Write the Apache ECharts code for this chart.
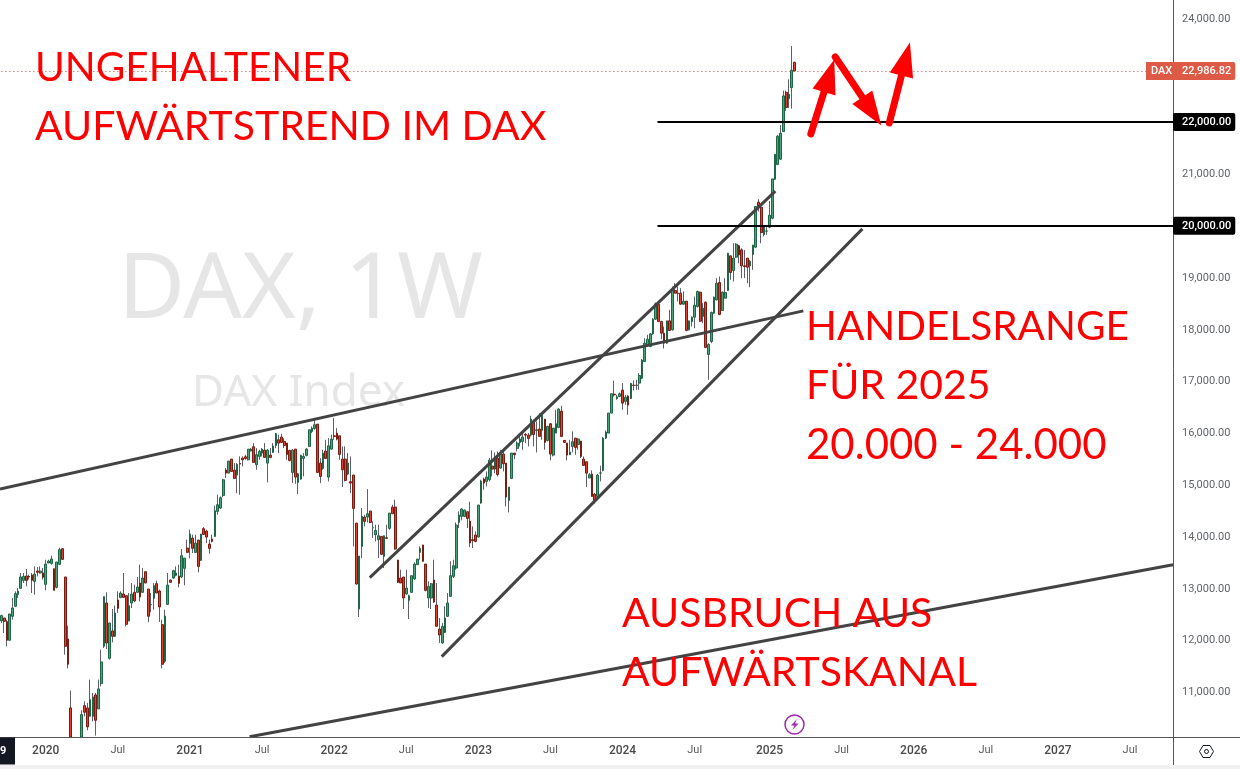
<!DOCTYPE html>
<html><head><meta charset="utf-8">
<style>html,body{margin:0;padding:0;background:#fff}#c{width:1240px;height:769px}</style>
<script src="https://cdn.jsdelivr.net/npm/echarts@6/dist/echarts.min.js"></script>
</head><body><div id="c"></div>
<script>
const opens=[12350,12408,12337,11977,12440,12633,12864,12980,13134,13218,
13211,13237,13115,13314,13276,13276,13057,13469,13462,13359,
12999,13443,13745,13199,12002,10671,9230,8900,9630,9525,
10716,10671,10510,10510,10922,10652,11141,11861,12697,11629,
12157,12054,12755,12800,12871,12838,12350,12697,12903,12903,
13083,12903,13301,12967,12663,12787,13070,12928,12279,11572,
12671,13141,13179,13231,13218,13199,13366,13758,13848,13951,
13674,13912,13520,14131,14086,13835,13932,13983,14466,14530,
14774,15263,15205,15475,15263,15167,15392,15494,15520,15462,
15630,15713,15366,15527,15591,15649,15398,15552,15604,15739,
15848,15900,15816,15784,15642,15218,15668,15025,15089,15488,
15546,15720,16009,16067,16150,15398,15295,15630,15128,15668,
15925,15977,15925,15475,15475,15186,15038,15167,14240,12581,
13790,14356,14356,14472,14147,14015,13919,13983,13597,13957,
14138,14549,14549,13527,13179,13199,12871,12748,12903,13160,
13437,13675,13816,13449,12793,12793,13141,12658,12195,11925,
12131,12440,12826,13211,13372,14253,14369,14369,14459,14279,
13919,14009,13970,14626,15089,15044,15077,15340,15282,15495,
15302,15572,15398,14678,15102,15591,15681,15797,15816,15951,
15938,15938,16202,16028,16054,16028,16247,15835,16157,15552,
15977,16086,16401,15835,15784,15559,15720,15880,15758,15823,
15475,15424,15109,15186,14800,14755,15205,15257,15880,15977,
16363,16729,16646,16684,16807,16588,16691,16646,16903,16897,
16942,17038,17359,17681,17649,17893,18176,18466,18131,17906,
17713,18144,17970,18729,18678,18678,18466,18524,17970,18131,
18215,18421,18697,18228,18504,17495,17745,18292,18549,18884,
18343,18581,18729,19399,19116,19373,19592,19514,19206,19354,
19206,19425,19566,20434,20338,19810,19875,19952,20125,20878,
21161,21264,21798,22556,22434,22646,23135];
const closes=[12453,12343,11977,12485,12600,12877,12928,13199,13211,13134,
13199,13134,13256,13289,13314,13192,13449,13507,13546,12941,
13488,13726,13539,11861,11514,9232,8930,9630,9525,10542,
10588,10305,10832,10883,10433,11038,11559,12819,11925,12311,
12054,12504,12594,12890,12806,12285,12646,12871,12736,13006,
12813,13179,13083,12440,12667,13031,12890,12620,11514,12446,
13044,13096,13321,13276,13076,13610,13565,13674,14028,13752,
13854,13404,14028,14022,13970,13752,13887,14478,14594,14729,
15076,15205,15437,15237,15102,15372,15379,15462,15488,15668,
15668,15411,15559,15623,15668,15507,15649,15507,15726,15964,
15784,15797,15739,15565,15449,15649,15128,15192,15546,15527,
15668,16041,16073,16138,15218,15141,15591,15488,15732,15861,
15912,15861,15565,15269,15064,15398,15012,14523,13064,13604,
14369,14273,14420,14253,14150,14099,13996,13636,13996,13945,
14433,14420,13739,13096,13083,12794,12986,12838,13224,13449,
13546,13752,13501,12941,13019,13070,12716,12247,12080,12247,
12408,12697,13224,13417,14202,14395,14511,14491,14331,13855,
13900,13887,14588,15051,15012,15128,15456,15282,15462,15179,
15572,15385,14742,14935,15591,15559,15784,15861,15900,15938,
15874,16247,15951,16041,15913,16324,15797,16106,15572,16073,
16157,16440,15913,15797,15552,15610,15810,15700,15861,15527,
15353,15205,15173,14755,14671,15167,15207,15880,15996,16363,
16736,16716,16678,16736,16556,16671,16517,16935,16897,16903,
17089,17385,17713,17790,17893,18176,18472,18131,17906,17713,
18144,17958,18742,18678,18671,18466,18524,17958,18144,18215,
18446,18710,18138,18388,17630,17687,18305,18601,18871,18266,
18697,18691,19450,19077,19354,19624,19418,19206,19193,19180,
19296,19605,20351,20363,19849,19952,19877,20183,20884,21360,
21708,21765,22486,22261,22518,22981,22967.82];
const lows=[12311,12118,11861,11977,12375,12633,12793,12980,13083,13019,
13147,12890,12858,13211,13263,13147,12941,13469,13437,12941,
12980,13430,13533,11700,11436,8800,8255,8500,9300,9400,
10510,10240,10510,10414,10137,10652,11089,11829,11810,11604,
11938,12041,12504,12793,12793,12247,12343,12600,12710,12890,
12729,12890,13083,12324,12517,12568,12890,12330,11436,11539,
12658,13083,13160,13211,12999,13179,13038,13674,13559,13662,
13662,13289,13507,14009,13854,13649,13867,13970,14401,14510,
14742,15109,15205,15237,15089,14819,14787,15334,15462,15449,
15623,15411,15269,15462,15527,15494,15025,15494,15591,15687,
15591,15784,15687,15462,15430,15012,14999,14800,15076,15141,
15527,15720,15977,16041,15205,15012,15269,15475,15044,15655,
15848,15835,15462,14935,15044,15167,14819,13790,13051,12427,
13565,14176,14253,14240,13951,13887,13565,13630,13372,13945,
14112,14420,13726,13083,13083,12581,12858,12388,12890,13147,
13437,13533,13501,12922,12600,12581,12697,12247,11925,11912,
12118,12427,12813,13179,13340,14144,14292,14356,14144,13777,
13758,13868,13970,14614,14884,14948,15044,15141,15205,15141,
15289,15237,14562,14446,15089,15475,15623,15720,15655,15784,
15720,15913,15720,15604,15913,15848,15655,15816,15450,15527,
15977,16073,15900,15784,15450,15559,15604,15559,15655,15495,
15347,14935,15109,14755,14614,14723,15044,15237,15861,15977,
16363,16684,16620,16671,16427,16524,16331,16633,16800,16813,
16813,17019,17359,17662,17636,17874,18163,18118,17790,17610,
17700,17945,17958,18678,18517,18453,18453,17945,17958,18035,
18003,18401,18125,18099,17617,17006,17713,18279,18536,18253,
18343,18581,18729,18936,18904,19360,19257,18968,18968,18871,
18794,19129,19547,20254,19643,19772,19804,19933,20106,20865,
21154,21251,21798,22196,22254,22241,22962];
const highs=[12472,12408,12375,12485,12793,12922,12986,13276,13276,13353,
13244,13276,13404,13391,13404,13372,13533,13533,13610,13359,
13488,13764,13758,13199,12260,11006,9400,9900,9900,10626,
10800,10768,11218,10961,10961,11218,11797,12819,12903,12311,
12581,12646,12922,12922,13276,12838,12890,13083,13051,13199,
13437,13372,13308,12967,12890,13083,13128,12954,12375,12568,
13276,13147,13340,13404,13437,13739,13565,13919,14112,14015,
14015,13912,14028,14163,14112,13919,14015,14575,14787,14755,
15089,15302,15437,15475,15398,15398,15527,15527,15559,15668,
15687,15784,15687,15655,15687,15784,15668,15687,15784,15977,
15945,15964,15880,15784,15655,15668,15668,15205,15559,15591,
15687,16041,16105,16266,16150,15494,15655,15848,15880,15945,
16266,16073,15925,15720,15720,15591,15527,15167,14240,13604,
14530,14401,14896,14472,14273,14208,14208,13983,13996,14208,
14433,14594,14691,13527,13340,13199,13340,12858,13224,13482,
13546,13790,13822,13449,13115,13083,13533,13083,12408,12311,
12633,12890,13501,13533,14253,14466,14530,14498,14459,14652,
14176,14080,14588,15077,15115,15237,15495,15642,15604,15623,
15655,15655,15398,14935,15591,15591,15816,15913,15977,15977,
15977,16311,16234,16202,16363,16376,16247,16118,16170,16073,
16427,16459,16504,15835,15784,15848,16009,15880,15880,15823,
15527,15424,15205,15257,14819,15192,15347,15900,16028,16363,
16736,16987,16716,16762,16942,16716,16716,16942,16993,17006,
17134,17405,17810,17874,17906,18196,18498,18517,18144,18035,
18144,18356,18806,18871,18806,18774,18710,18524,18144,18228,
18614,18729,18710,18485,18517,17713,18324,18614,18967,19000,
18710,18967,19450,19399,19643,19643,19611,19547,19514,19354,
19322,19611,20351,20492,20338,19965,19952,20460,20884,21360,
21733,21926,22589,22589,22807,23450,23148];

// the candle readings above ran 19 points low against the price scale
const readingShift=19;
const firstWeek='2019-09-16';
const weekCount=423;
const tickWeeks=['2020-01-06','2020-07-06','2021-01-04','2021-07-05','2022-01-03','2022-07-04','2023-01-02','2023-07-03','2024-01-01','2024-07-01','2025-01-06','2025-07-07','2026-01-05','2026-07-06','2027-01-04','2027-07-05'];
const tickLabels=['2020','Jul','2021','Jul','2022','Jul','2023','Jul','2024','Jul','2025','Jul','2026','Jul','2027','Jul'];
const priceTicks=[11000,12000,13000,14000,15000,16000,17000,18000,19000,20000,21000,22000,24000];
const levels=[20000,22000];
const lastPrice=22986.82;
const priceMin=10129, priceMax=24357;
const longTrendTop=[[-0.5,14916],[289.2,18356]];
const channelUpper=[[132.85,13205],[279.1,20666]];
const channelLower=[[158.8,11681],[310.5,19939]];
const longTrendBottom=[[89.5,10135],[422.5,13456]];
const arrowUp1=[[291.9,21772],[298.5,22894]];
const arrowDown=[[300.7,23257],[313.9,22206]];
const arrowUp2=[[320.2,21984],[326.1,23219]];
const levelStart=236.6, axisEnd=422.5;

const weeks=[];
{const t0=Date.parse(firstWeek+'T00:00:00Z');
 for(let i=0;i<weekCount;i++) weeks.push(new Date(t0+i*7*864e5).toISOString().slice(0,10));}

const keep=v=>Math.max(v+readingShift,priceMin);
const wickData=opens.map((o,i)=>highs[i]+readingShift<priceMin?['-','-','-','-']:[keep(o),keep(closes[i]),keep(lows[i]),keep(highs[i])]);
const bodyData=opens.map((o,i)=>{const c=closes[i];
  return Math.max(o,c)+readingShift<priceMin?['-','-','-','-']:[keep(o),keep(c),keep(Math.min(o,c)),keep(Math.max(o,c))];});

const UI='Roboto, sans-serif', TXT='Lato, sans-serif', MARK='"Noto Sans", sans-serif';
const segLine=(pts,style)=>[{coord:pts[0],lineStyle:style},{coord:pts[1],lineStyle:style}];
const trendStyle={color:'#434343',width:3,type:'solid',opacity:1};
const levelStyle={color:'#000',width:2,type:'solid',opacity:1};
const arrowStyle={color:'#ff0000',width:7,type:'solid',cap:'round',opacity:1};

function fmtPrice(v){return v.toLocaleString('en-US',{minimumFractionDigits:2,maximumFractionDigits:2});}

const redText=(x,y,t,s)=>({type:'text',z:40,x,y,style:{text:t,fill:'#ff0000',font:(s||40.5)+'px '+TXT,verticalAlign:'middle'}});

const chart=echarts.init(document.getElementById('c'),null,{renderer:'canvas',width:1240,height:769});
chart.setOption({
 animation:false,backgroundColor:'#fff',
 grid:{left:-1.2,top:0,width:1174.2,height:737,containLabel:false},
 xAxis:[{type:'category',data:weeks,boundaryGap:true,
   axisLine:{show:true,onZero:false,lineStyle:{color:'#555',width:1}},axisTick:{show:false},splitLine:{show:false},
   axisLabel:{show:true,margin:8,hideOverlap:false,
     interval:(i,v)=>tickWeeks.includes(v),
     formatter:v=>{const l=tickLabels[tickWeeks.indexOf(v)];return l==='Jul'?'{m|'+l+'}':'{y|'+l+'}';},
     rich:{y:{fontFamily:UI,fontSize:12,color:'#4a4a4a',fontWeight:500},m:{fontFamily:UI,fontSize:11,color:'#5a5a5a'}}}},
   {type:'value',min:-0.5,max:422.5,show:false,splitLine:{show:false}}],
 yAxis:{type:'value',position:'right',min:priceMin,max:priceMax,scale:true,
   axisLine:{show:true,onZero:false,lineStyle:{color:'#555',width:1}},axisTick:{show:false},splitLine:{show:false},
   axisLabel:{show:true,margin:0,align:'left',customValues:[...priceTicks,lastPrice],
     formatter:v=>{const s=fmtPrice(v);if(v===lastPrice)return '{p|'+s+'}';return levels.includes(v)?'{b|'+s+'}':'{n|'+s+'}';},
     rich:{n:{fontFamily:UI,fontSize:11,color:'#5f6368',padding:[4,4,3,9]},
           b:{fontFamily:UI,fontSize:11,color:'#fff',fontWeight:500,backgroundColor:'#000',padding:[4,4,3,9],borderRadius:2},
           p:{fontFamily:UI,fontSize:11,color:'#fff',fontWeight:500,backgroundColor:'#dd5a47',padding:[4,4,3,9],borderRadius:2}}}},
 series:[
  {name:'wicks',type:'candlestick',z:3,barWidth:1,clip:true,data:wickData,
   itemStyle:{color:'#5d606b',color0:'#5d606b',borderColor:'#5d606b',borderColor0:'#5d606b',borderColorDoji:'#5d606b',borderWidth:1}},
  {name:'DAX',type:'candlestick',z:4,barWidth:2.2,clip:true,data:bodyData,
   itemStyle:{color:'#4aa37c',color0:'#e04030',borderColor:'#1f6647',borderColor0:'#7a1c12',borderColorDoji:'#444',borderWidth:1}},
  {name:'overlays',type:'line',xAxisIndex:1,yAxisIndex:0,data:[],z:6,
   markLine:{silent:true,symbol:'none',animation:false,precision:4,label:{show:false},
    data:[
     segLine(longTrendTop,trendStyle),segLine(channelUpper,trendStyle),segLine(channelLower,trendStyle),segLine(longTrendBottom,trendStyle),
     ...levels.map(v=>segLine([[levelStart,v],[axisEnd,v]],levelStyle)),
     [{coord:[0,lastPrice],lineStyle:{color:'#c8473a',width:1,type:[1,3],opacity:1},label:{show:true,position:'end',distance:-27,formatter:'DAX',color:'#fff',fontFamily:UI,fontSize:11,fontWeight:500,backgroundColor:'#dd5a47',padding:[4,7,3,5]}},{coord:[axisEnd,lastPrice]}]
    ]}},
  {name:'arrows',type:'line',xAxisIndex:1,yAxisIndex:0,data:[],z:7,
   markLine:{silent:true,symbol:['none','triangle'],symbolSize:[24,34],animation:false,precision:4,label:{show:false},
    data:[arrowUp1,arrowDown,arrowUp2].map(p=>segLine(p,arrowStyle))}}
 ],
 graphic:[
  {type:'text',z:-5,x:118,y:292,style:{text:'DAX, 1W',fill:'#e6e6e6',font:'92px '+MARK,verticalAlign:'middle'}},
  {type:'text',z:-5,x:192,y:393,style:{text:'DAX Index',fill:'#e6e6e6',font:'44px '+MARK,verticalAlign:'middle'}},
  redText(35,68,'UNGEHALTENER'),redText(35,127,'AUFWÄRTSTREND IM DAX',41),
  redText(806,327,'HANDELSRANGE'),redText(806,386,'FÜR 2025',41),redText(806,445,'20.000 - 24.000',42),
  redText(622,614,'AUSBRUCH AUS',41),redText(622,673,'AUFWÄRTSKANAL',41),
  {type:'rect',z:30,shape:{x:0,y:737.5,width:15,height:27},style:{fill:'#131722'}},
  {type:'text',z:31,x:0,y:751,style:{text:'9',fill:'#fff',font:'bold 11px '+UI,verticalAlign:'middle'}},
  {type:'line',z:20,shape:{x1:0,y1:737.5,x2:1240,y2:737.5},style:{stroke:'#555',lineWidth:1}},
  {type:'line',z:20,shape:{x1:1173.5,y1:737,x2:1173.5,y2:765},style:{stroke:'#555',lineWidth:1}},
  {type:'rect',z:20,shape:{x:0,y:765,width:1240,height:4},style:{fill:'#f0f0f0'}},
  {type:'circle',z:20,shape:{cx:794.5,cy:724.5,r:9.5},style:{fill:'#fff',stroke:'#9c27b0',lineWidth:1.5}},
  {type:'polygon',z:21,shape:{points:[[797,719],[791,725.5],[794.5,725.5],[792.5,730],[798.5,723.5],[795,723.5]]},style:{fill:'#9c27b0'}},
  {type:'polygon',z:20,shape:{points:[[1199.5,751.5],[1203,745.5],[1210,745.5],[1213.5,751.5],[1210,757.5],[1203,757.5]]},style:{fill:'#fff',stroke:'#131722',lineWidth:1}},
  {type:'circle',z:21,shape:{cx:1206.5,cy:751.5,r:2},style:{fill:'#fff',stroke:'#131722',lineWidth:1}}
 ]
});
</script></body></html>
